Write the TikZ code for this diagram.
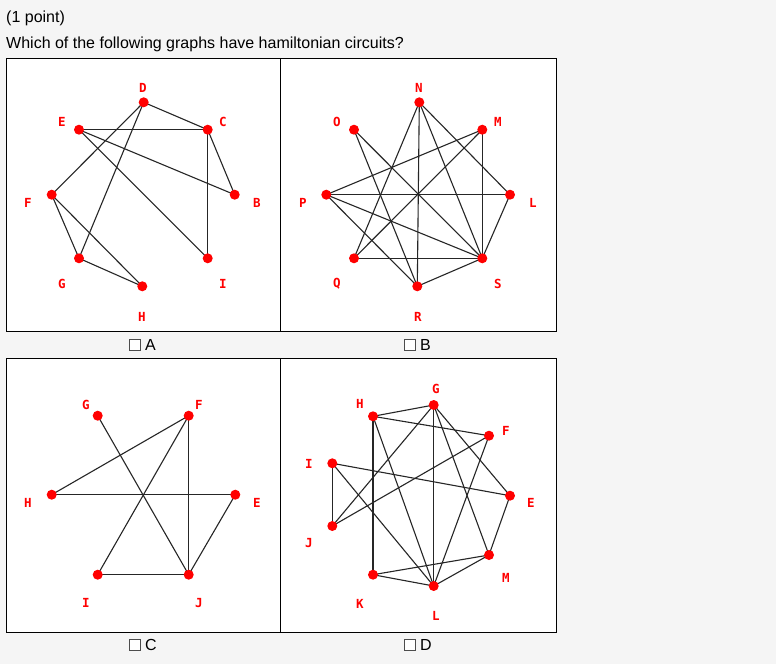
\documentclass[tikz,border=0pt]{standalone}
\usepackage{fontspec}
\setmainfont{Liberation Sans}
\newfontfamily\lblfont{DejaVu Sans Mono}
\begin{document}
\begin{tikzpicture}[x=1pt,y=-1pt,
  v/.style={circle,fill=red,inner sep=0pt,minimum size=10pt},
  lb/.style={text=red,font=\lblfont\bfseries\fontsize{12.5}{13}\selectfont,inner sep=0pt},
  e/.style={draw=black!85,line width=1.1pt},
  frame/.style={draw=black,line width=1pt,fill=white},
  cb/.style={draw=black!70,fill=white,minimum size=11pt,inner sep=0pt,line width=0.8pt},
  q/.style={font=\fontsize{16}{19}\selectfont,anchor=west,inner sep=0pt}]
\fill[black!4] (0,0) rectangle (776,664);
\useasboundingbox (0,0) rectangle (776,664);
\node[q] (t1) at (6,18) {(1 point)};
\node[q] (t2) at (6,44) {Which of the following graphs have hamiltonian circuits?};
\draw[frame] (6,58) rectangle (280,331);
\draw[frame] (280,58) rectangle (556,331);
\draw[frame] (6,358) rectangle (280,632);
\draw[frame] (280,358) rectangle (556,632);
% checkboxes
\node[cb] (ca) at (135,345) {}; \node[q] (la) at (145,345) {A};
\node[cb] (cbb) at (410,345) {}; \node[q] (lbb) at (420,345) {B};
\node[cb] (cc) at (135,645) {}; \node[q] (lc) at (145,645) {C};
\node[cb] (cd) at (410,645) {}; \node[q] (ld) at (420,645) {D};
% Graph A
\coordinate (AD) at (143.7,102.3); \coordinate (AC) at (207.7,129.7);
\coordinate (AE) at (79,129.7); \coordinate (AB) at (234.7,194.7);
\coordinate (AF) at (51.7,194.7); \coordinate (AG) at (79,258.3);
\coordinate (AI) at (207.7,258.3); \coordinate (AH) at (142.3,286.3);
\foreach \a/\b in {D/C,E/C,E/B,C/B,C/I,D/F,D/G,E/I,F/G,F/H,G/H}
  \draw[e] (A\a) -- (A\b);
\foreach \n in {D,C,E,B,F,G,I,H} \node[v] (vA\n) at (A\n) {};
\node[lb] (lA1) at (143,88) {D}; \node[lb] (lA2) at (62,122) {E};
\node[lb] (lA3) at (223,122) {C}; \node[lb] (lA4) at (28,203) {F};
\node[lb] (lA5) at (257,203) {B}; \node[lb] (lA6) at (62,284) {G};
\node[lb] (lA7) at (223,284) {I}; \node[lb] (lA8) at (142,317) {H};
% Graph B
\coordinate (BN) at (419.3,102.3); \coordinate (BO) at (354,129.7);
\coordinate (BM) at (482.3,129.7); \coordinate (BP) at (326.3,194.7);
\coordinate (BL) at (510,194.7); \coordinate (BQ) at (354,258.3);
\coordinate (BS) at (482.3,258.3); \coordinate (BR) at (417.3,286.3);
\foreach \a/\b in {N/Q,N/R,N/S,N/L,O/S,O/R,M/P,M/Q,M/S,P/L,P/S,P/R,Q/S,L/S,R/S}
  \draw[e] (B\a) -- (B\b);
\foreach \n in {N,O,M,P,L,Q,S,R} \node[v] (vB\n) at (B\n) {};
\node[lb] (lB1) at (419,88) {N}; \node[lb] (lB2) at (337,122) {O};
\node[lb] (lB3) at (498,122) {M}; \node[lb] (lB4) at (303,203) {P};
\node[lb] (lB5) at (533,203) {L}; \node[lb] (lB6) at (337,284) {Q};
\node[lb] (lB7) at (498,284) {S}; \node[lb] (lB8) at (418,317) {R};
% Graph C
\coordinate (CG) at (97.7,415.7); \coordinate (CF) at (188.7,415.7);
\coordinate (CH) at (51.7,494.7); \coordinate (CE) at (235.3,494.7);
\coordinate (CI) at (97.7,574.7); \coordinate (CJ) at (188.7,574.7);
\foreach \a/\b in {H/F,H/E,G/J,F/I,F/J,E/J,I/J}
  \draw[e] (C\a) -- (C\b);
\foreach \n in {G,F,H,E,I,J} \node[v] (vC\n) at (C\n) {};
\node[lb] (lC1) at (86,405) {G}; \node[lb] (lC2) at (199,405) {F};
\node[lb] (lC3) at (28,503) {H}; \node[lb] (lC4) at (257,503) {E};
\node[lb] (lC5) at (86,603) {I}; \node[lb] (lC6) at (199,603) {J};
% Graph D
\coordinate (DG) at (433.7,405); \coordinate (DH) at (373,416.3);
\coordinate (DF) at (489,435.7); \coordinate (DI) at (332.3,463.3);
\coordinate (DE) at (510,495.7); \coordinate (DJ) at (332.3,526);
\coordinate (DM) at (489,555); \coordinate (DK) at (373,574.7);
\coordinate (DL) at (433.7,586);
\foreach \a/\b in {H/G,H/F,H/K,H/L,G/J,G/L,G/E,G/M,F/J,F/L,I/E,I/J,I/L,E/M,M/K,M/L,K/L}
  \draw[e] (D\a) -- (D\b);
\foreach \n in {G,H,F,I,E,J,M,K,L} \node[v] (vD\n) at (D\n) {};
\node[lb] (lD1) at (436,389) {G}; \node[lb] (lD2) at (360,404) {H};
\node[lb] (lD3) at (506,431) {F}; \node[lb] (lD4) at (309,464) {I};
\node[lb] (lD5) at (531,503) {E}; \node[lb] (lD6) at (309,543) {J};
\node[lb] (lD7) at (506,578) {M}; \node[lb] (lD8) at (360,604) {K};
\node[lb] (lD9) at (436,616) {L};
\end{tikzpicture}
\end{document}
